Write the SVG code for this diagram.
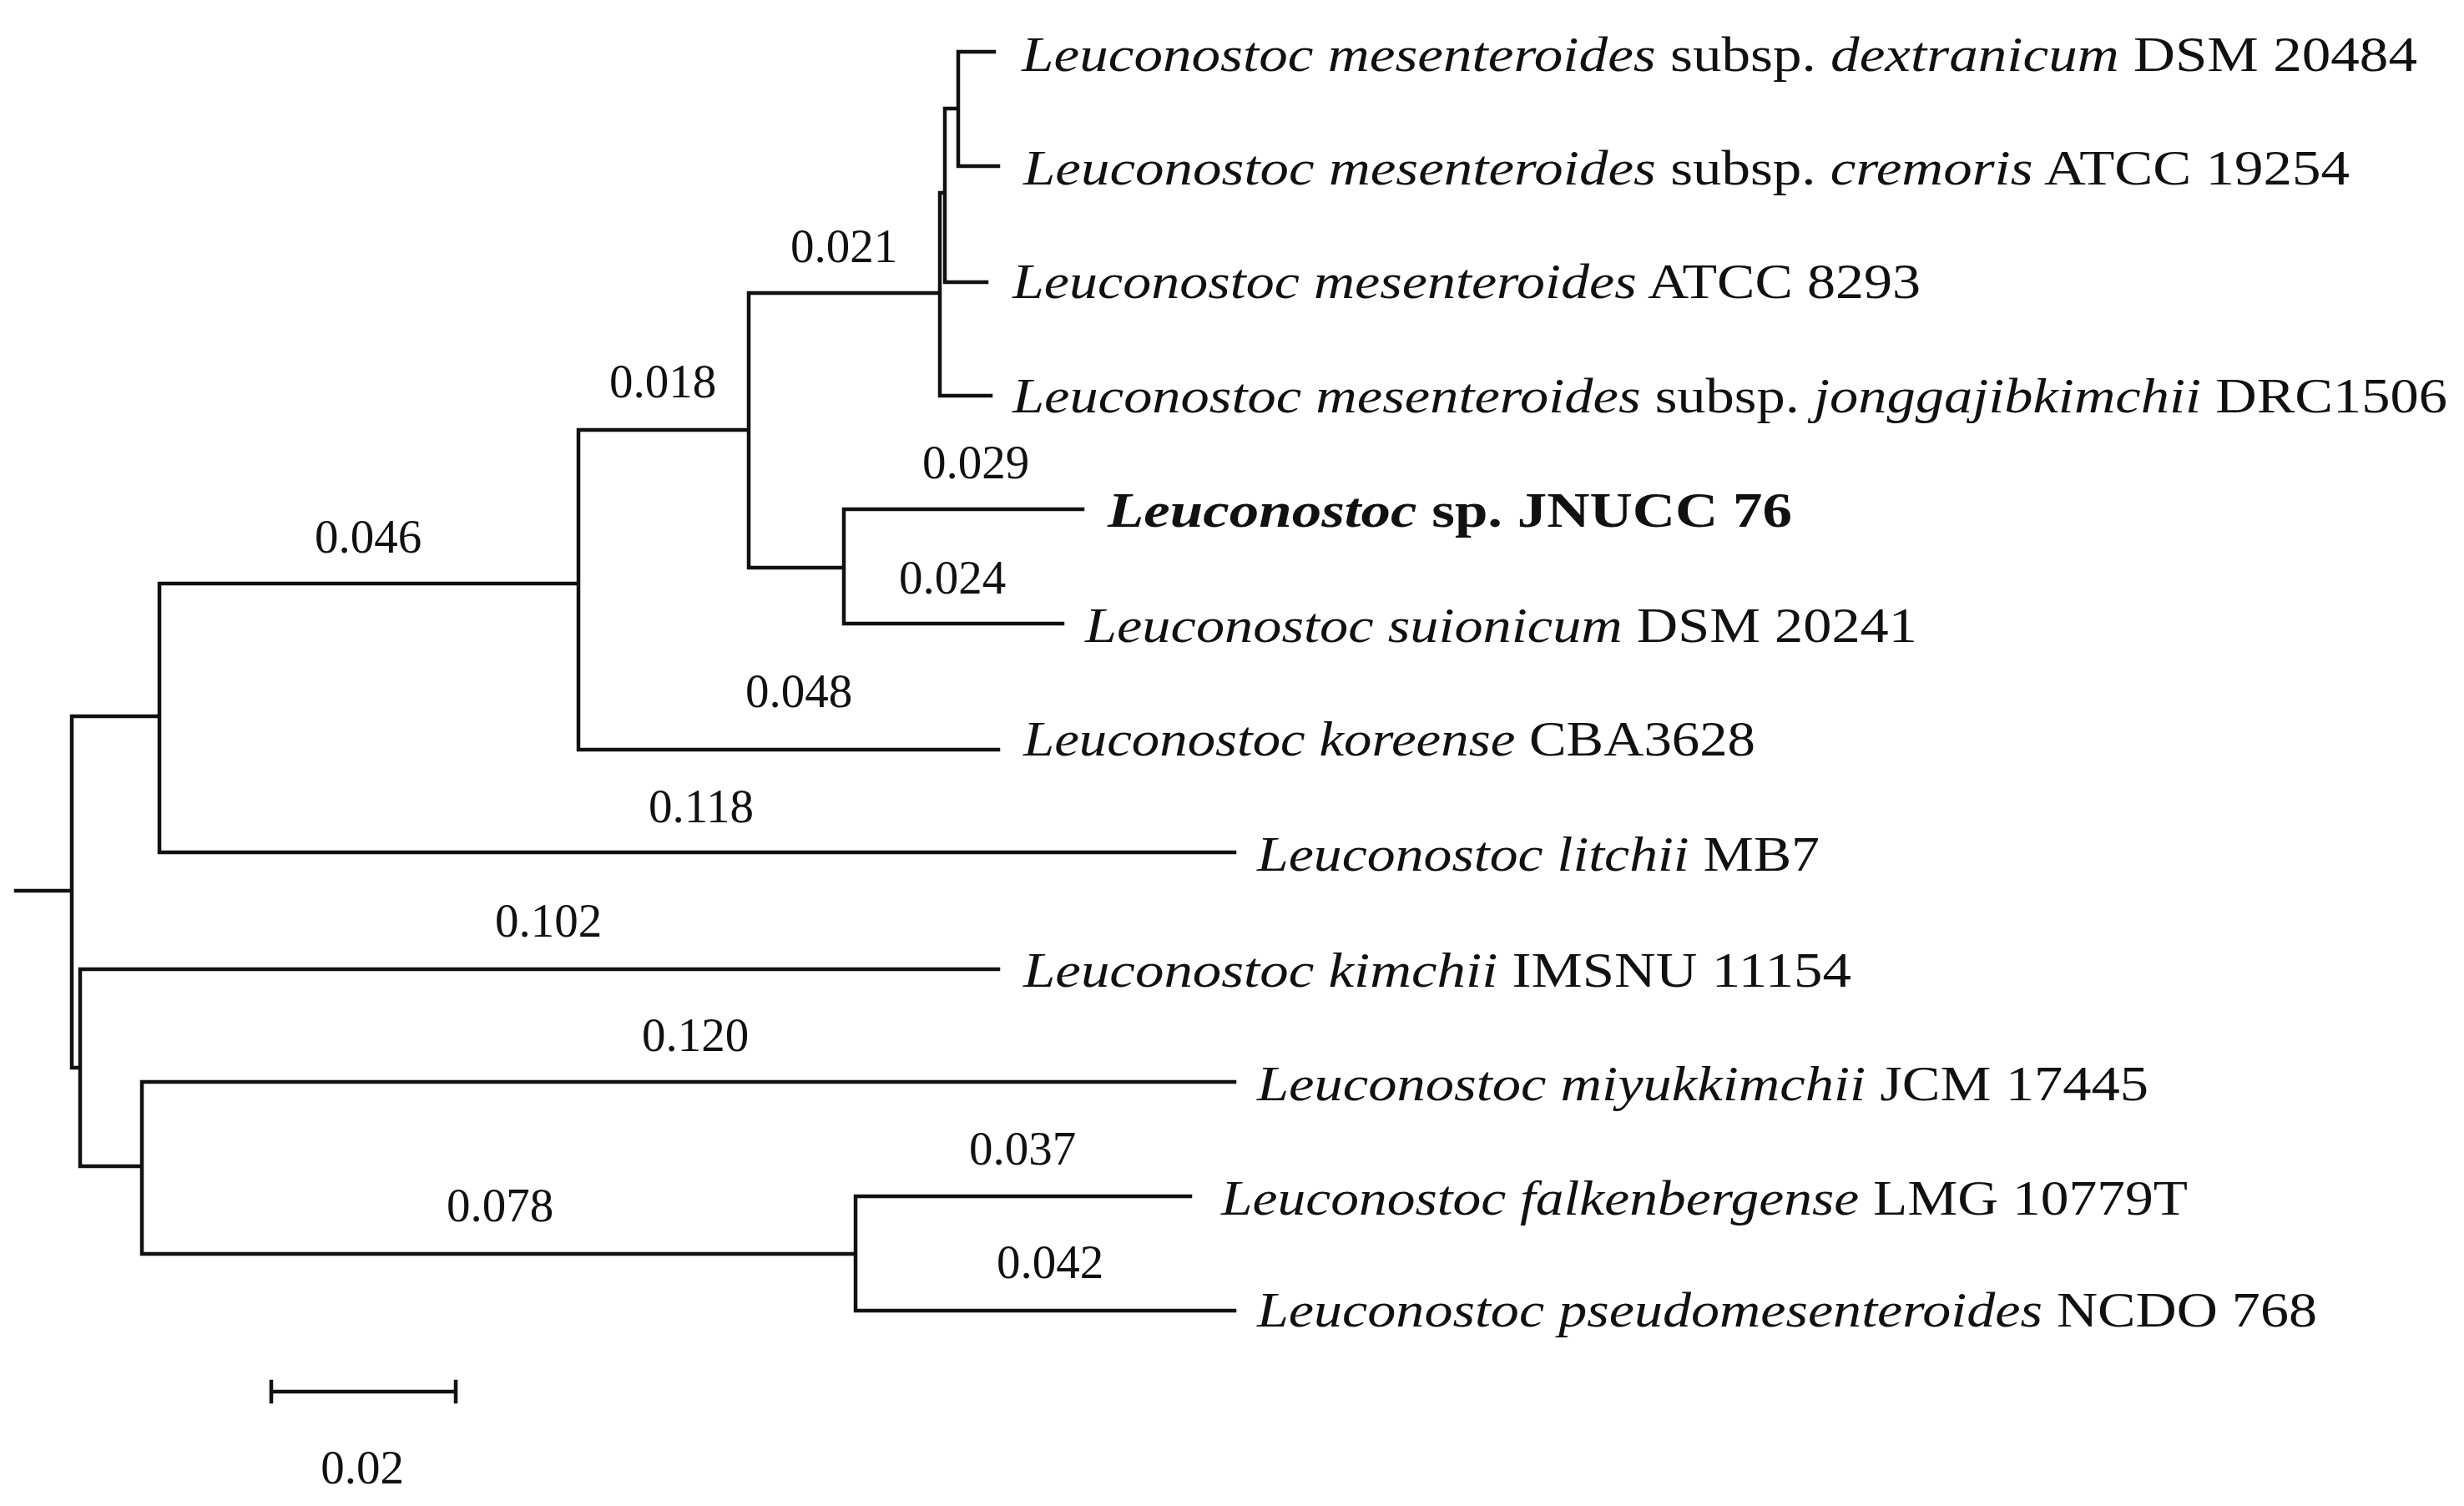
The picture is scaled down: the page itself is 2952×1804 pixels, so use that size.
<svg xmlns="http://www.w3.org/2000/svg" width="2952" height="1804" viewBox="0 0 2952 1804">
<style>
.e{stroke:#111;stroke-width:4.5;fill:none;stroke-linecap:square}
.n{font-family:"Liberation Serif",serif;font-size:57px;fill:#111;text-anchor:middle}
.s{font-family:"Liberation Serif",serif;font-size:60px;fill:#111}
.i{font-style:italic}
</style>
<rect width="2952" height="1804" fill="#fff"/>
<g id="connectors">
<path class="e" d="M19 1067H86M86 858V1279H96M86 858H191M191 699V1021H1479M191 699H693M693 515V898H1196M693 515H897M897 351V680H1011M897 351H1126M1126 231V474H1187M1126 231H1132M1132 130V338H1182M1132 130H1148M1148 62V199H1196M1148 62H1191M1011 610V747H1273M1011 610H1297M96 1161V1397H170M96 1161H1196M170 1296V1502H1025M170 1296H1479M1025 1433V1570H1479M1025 1433H1426"/>
<path class="e" d="M325 1667H546M325 1655V1679M546 1655V1679"/>
</g>
<g id="branch-labels">
<text class="n" x="1011" y="314">0.021</text>
<text class="n" x="794" y="476">0.018</text>
<text class="n" x="1169" y="573">0.029</text>
<text class="n" x="441" y="662">0.046</text>
<text class="n" x="1141" y="711">0.024</text>
<text class="n" x="957" y="847">0.048</text>
<text class="n" x="840" y="985">0.118</text>
<text class="n" x="657" y="1122">0.102</text>
<text class="n" x="833" y="1259">0.120</text>
<text class="n" x="1225" y="1395">0.037</text>
<text class="n" x="599" y="1463">0.078</text>
<text class="n" x="1258" y="1531">0.042</text>
<text class="n" x="434" y="1777">0.02</text>
</g>
<g id="leaf1"><text class="s" x="1224" y="85" textLength="1672" lengthAdjust="spacingAndGlyphs"><tspan class="i">Leuconostoc mesenteroides</tspan> subsp. <tspan class="i">dextranicum</tspan> DSM 20484</text></g>
<g id="leaf2"><text class="s" x="1226" y="221" textLength="1589" lengthAdjust="spacingAndGlyphs"><tspan class="i">Leuconostoc mesenteroides</tspan> subsp. <tspan class="i">cremoris</tspan> ATCC 19254</text></g>
<g id="leaf3"><text class="s" x="1213" y="357" textLength="1088" lengthAdjust="spacingAndGlyphs"><tspan class="i">Leuconostoc mesenteroides</tspan> ATCC 8293</text></g>
<g id="leaf4"><text class="s" x="1213" y="494" textLength="1719" lengthAdjust="spacingAndGlyphs"><tspan class="i">Leuconostoc mesenteroides</tspan> subsp. <tspan class="i">jonggajibkimchii</tspan> DRC1506</text></g>
<g id="leaf5"><text class="s" x="1327" y="631" font-weight="bold" textLength="820" lengthAdjust="spacingAndGlyphs"><tspan class="i">Leuconostoc</tspan> sp. JNUCC 76</text></g>
<g id="leaf6"><text class="s" x="1300" y="769" textLength="997" lengthAdjust="spacingAndGlyphs"><tspan class="i">Leuconostoc suionicum</tspan> DSM 20241</text></g>
<g id="leaf7"><text class="s" x="1226" y="905" textLength="877" lengthAdjust="spacingAndGlyphs"><tspan class="i">Leuconostoc koreense</tspan> CBA3628</text></g>
<g id="leaf8"><text class="s" x="1506" y="1043" textLength="674" lengthAdjust="spacingAndGlyphs"><tspan class="i">Leuconostoc litchii</tspan> MB7</text></g>
<g id="leaf9"><text class="s" x="1226" y="1182" textLength="992" lengthAdjust="spacingAndGlyphs"><tspan class="i">Leuconostoc kimchii</tspan> IMSNU 11154</text></g>
<g id="leaf10"><text class="s" x="1506" y="1318" textLength="1068" lengthAdjust="spacingAndGlyphs"><tspan class="i">Leuconostoc miyukkimchii</tspan> JCM 17445</text></g>
<g id="leaf11"><text class="s" x="1463" y="1455" textLength="1158" lengthAdjust="spacingAndGlyphs"><tspan class="i">Leuconostoc falkenbergense</tspan> LMG 10779T</text></g>
<g id="leaf12"><text class="s" x="1506" y="1589" textLength="1270" lengthAdjust="spacingAndGlyphs"><tspan class="i">Leuconostoc pseudomesenteroides</tspan> NCDO 768</text></g>
</svg>
